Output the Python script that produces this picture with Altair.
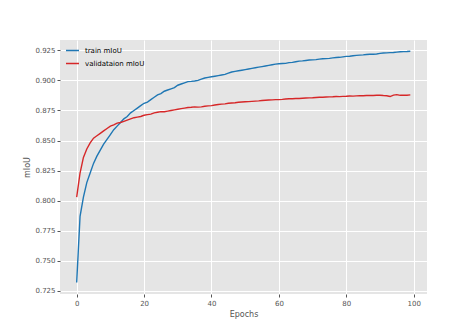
import altair as alt
import pandas as pd

epochs = list(range(100))

train_miou = [
    0.732, 0.787, 0.803, 0.815, 0.823, 0.831, 0.837, 0.842, 0.847, 0.851,
    0.855, 0.859, 0.862, 0.865, 0.868, 0.870, 0.873, 0.875, 0.877, 0.879,
    0.881, 0.882, 0.884, 0.886, 0.888, 0.889, 0.891, 0.892, 0.893, 0.894,
    0.896, 0.897, 0.898, 0.899, 0.8992, 0.8995, 0.900, 0.901, 0.902, 0.9025,
    0.903, 0.9035, 0.904, 0.9045, 0.905, 0.906, 0.907, 0.9075, 0.908, 0.9085,
    0.909, 0.9095, 0.910, 0.9105, 0.911, 0.9115, 0.912, 0.9125, 0.913, 0.9135,
    0.9138, 0.914, 0.9142, 0.9148, 0.915, 0.9155, 0.916, 0.9162, 0.9166, 0.917,
    0.9171, 0.9173, 0.9177, 0.918, 0.9181, 0.9183, 0.9187, 0.919, 0.9192, 0.9196,
    0.920, 0.9201, 0.9205, 0.9208, 0.921, 0.9212, 0.9215, 0.9217, 0.9218, 0.922,
    0.9225, 0.9228, 0.9229, 0.9231, 0.9232, 0.9235, 0.9238, 0.9239, 0.924, 0.9242,
]

val_miou = [
    0.803, 0.823, 0.836, 0.843, 0.848, 0.852, 0.854, 0.856, 0.858, 0.860,
    0.862, 0.863, 0.8645, 0.865, 0.866, 0.867, 0.868, 0.869, 0.8695, 0.870,
    0.871, 0.8715, 0.872, 0.873, 0.8735, 0.874, 0.874, 0.8745, 0.875, 0.8755,
    0.876, 0.8765, 0.877, 0.8775, 0.8777, 0.878, 0.8778, 0.878, 0.8785, 0.8788,
    0.879, 0.8795, 0.880, 0.8803, 0.8805, 0.881, 0.8812, 0.8814, 0.8818, 0.882,
    0.8822, 0.8824, 0.8826, 0.8828, 0.883, 0.8833, 0.8835, 0.8837, 0.8838, 0.884,
    0.884, 0.8842, 0.8845, 0.8847, 0.8848, 0.885, 0.885, 0.8852, 0.8854, 0.8855,
    0.8856, 0.8858, 0.886, 0.886, 0.8862, 0.8863, 0.8864, 0.8866, 0.8865, 0.8867,
    0.8868, 0.887, 0.8869, 0.8871, 0.8872, 0.8873, 0.8874, 0.8875, 0.8874, 0.8876,
    0.8877, 0.8874, 0.8872, 0.8866, 0.8878, 0.8882, 0.8876, 0.8878, 0.8877, 0.888,
]

series_names = ["train mIoU", "validataion mIoU"]
series_colors = ["#1f77b4", "#d62728"]
x_ticks = [0, 20, 40, 60, 80, 100]
y_ticks = [0.725, 0.750, 0.775, 0.800, 0.825, 0.850, 0.875, 0.900, 0.925]

df = pd.concat([
    pd.DataFrame({"epoch": epochs, "miou": train_miou, "series": series_names[0]}),
    pd.DataFrame({"epoch": epochs, "miou": val_miou, "series": series_names[1]}),
])

font = "DejaVu Sans"
grey = "#555555"

chart = alt.Chart(df).mark_line(strokeWidth=1.4).encode(
    x=alt.X("epoch:Q",
            scale=alt.Scale(domain=[-4.95, 103.95], nice=False, zero=False),
            axis=alt.Axis(title="Epochs", values=x_ticks, format="d",
                          grid=True, gridColor="white", gridWidth=1,
                          domain=False, tickColor=grey, tickSize=3,
                          labelColor=grey, labelFontSize=7, labelFont=font,
                          labelPadding=2,
                          titleColor=grey, titleFontSize=8, titleFont=font,
                          titleFontWeight="normal", titlePadding=4)),
    y=alt.Y("miou:Q",
            scale=alt.Scale(domain=[0.7224, 0.9336], nice=False, zero=False),
            axis=alt.Axis(title="mIoU", values=y_ticks, format=".3f",
                          grid=True, gridColor="white", gridWidth=1,
                          domain=False, tickColor=grey, tickSize=3,
                          labelColor=grey, labelFontSize=7, labelFont=font,
                          labelPadding=2,
                          titleColor=grey, titleFontSize=8, titleFont=font,
                          titleFontWeight="normal", titlePadding=3)),
    color=alt.Color("series:N",
                    scale=alt.Scale(domain=series_names, range=series_colors),
                    legend=alt.Legend(title=None, orient="none", legendX=5, legendY=3,
                                      symbolType="stroke", symbolSize=169,
                                      symbolStrokeWidth=1.5,
                                      labelFontSize=7, labelFont=font,
                                      labelColor="black", rowPadding=2,
                                      labelOffset=5)),
).properties(
    width=367, height=254,
    background="white",
    padding={"left": 60, "top": 40, "right": 47, "bottom": 37},
    autosize=alt.AutoSizeParams(type="none"),
).configure_view(
    fill="#E5E5E5", stroke=None
)

chart.save("out.html", embed_options={"renderer": "svg", "actions": False})
